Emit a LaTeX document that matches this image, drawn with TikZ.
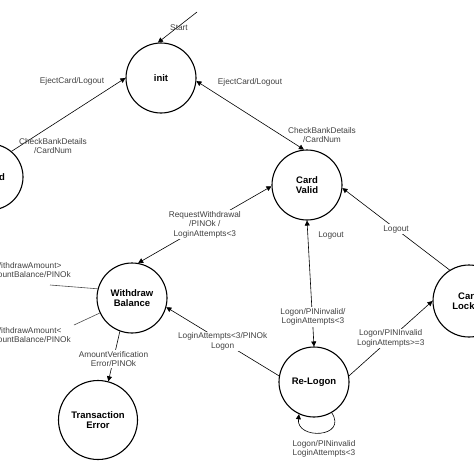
\documentclass[tikz,border=0pt]{standalone}
\usepackage{fontspec}
\setmainfont{Liberation Sans}
\usetikzlibrary{arrows.meta}
\begin{document}
\begin{tikzpicture}[x=1pt,y=-1pt,
  st/.style={circle,draw,line width=1.1pt,inner sep=0pt,align=center,font=\fontsize{9.5}{10.5}\selectfont\bfseries},
  lb/.style={font=\fontsize{8.3}{9.6}\selectfont,text=black!75,align=center,inner sep=1pt},
  lbw/.style={lb,fill=white},
  ed/.style={line width=0.6pt,-{Triangle[length=5pt,width=5pt]}},
  ed2/.style={line width=0.6pt,{Triangle[length=5pt,width=5pt]}-{Triangle[length=5pt,width=5pt]}},
  ln/.style={line width=0.6pt,draw=black!70}]
\useasboundingbox (0,0) rectangle (474,474);
\begin{scope}
\clip (0,0) rectangle (474,474);
\node[st,minimum size=70pt] (init) at (161,78) {init};
\node[st,minimum size=70pt] (cv) at (307,185) {Card\\Valid};
\node[st,minimum size=66pt] (inv) at (-10,177) {Invalid};
\node[st,minimum size=70pt] (wb) at (132,298) {Withdraw\\Balance};
\node[st,minimum size=79pt] (te) at (98,420) {Transaction\\Error};
\node[st,minimum size=70pt] (rl) at (314,382) {Re-Logon};
\node[st,minimum size=72pt] (cl) at (469,301) {Card\\Locked};
\coordinate (s0) at (197,12);
\coordinate (a1) at (50,285);
\coordinate (a2) at (74,325);

\draw[ed] (s0) -- (init.95);
\node[lb] at (179,28) {Start};
\draw[ed] (inv.50) -- (init.west);
\node[lb] at (72,81) {EjectCard/Logout};
\node[lb] at (53,146) {CheckBankDetails\\/CardNum};
\draw[ed2] (init.-5) -- (cv.95);
\node[lb] at (250,82) {EjectCard/Logout};
\node[lb] at (322,135) {CheckBankDetails\\/CardNum};
\draw[ed2] (wb.80) -- node[lbw,pos=0.5]{RequestWithdrawal\\/PINOk /\\LoginAttempts<3} (cv.182);
\draw[ed2] (cv.270) -- (rl.90);
\node[lb] at (331,236) {Logout};
\node[lbw] at (313,317) {Logon/PINinvalid/\\LoginAttempts<3};
\draw[ed] (cl.122) -- node[lbw,pos=0.5]{Logout} (cv.-5);
\draw[ed] (rl.10) -- node[lbw,pos=0.5]{Logon/PINInvalid\\LoginAttempts>=3} (cl.180);
\draw[ed] (rl.170) -- node[lbw,pos=0.5]{LoginAttempts<3/PINOk\\Logon} (wb.-15);
\draw[ed] (rl.-60) .. controls (348,438) and (296,440) .. (rl.-115);
\node[lb] at (324,449) {Logon/PINinvalid\\LoginAttempts<3};
\draw[ed] (wb.-110) -- node[lbw,pos=0.55]{AmountVerification\\Error/PINOk} (te.75);
\draw[ln] (a1) -- (wb.165);
\draw[ln] (a2) -- (wb.-155);
\node[lb,anchor=east] at (72,270) {WithdrawAmount>\\AccountBalance/PINOk};
\node[lb,anchor=east] at (72,335) {WithdrawAmount<\\AccountBalance/PINOk};
\end{scope}
\end{tikzpicture}
\end{document}
